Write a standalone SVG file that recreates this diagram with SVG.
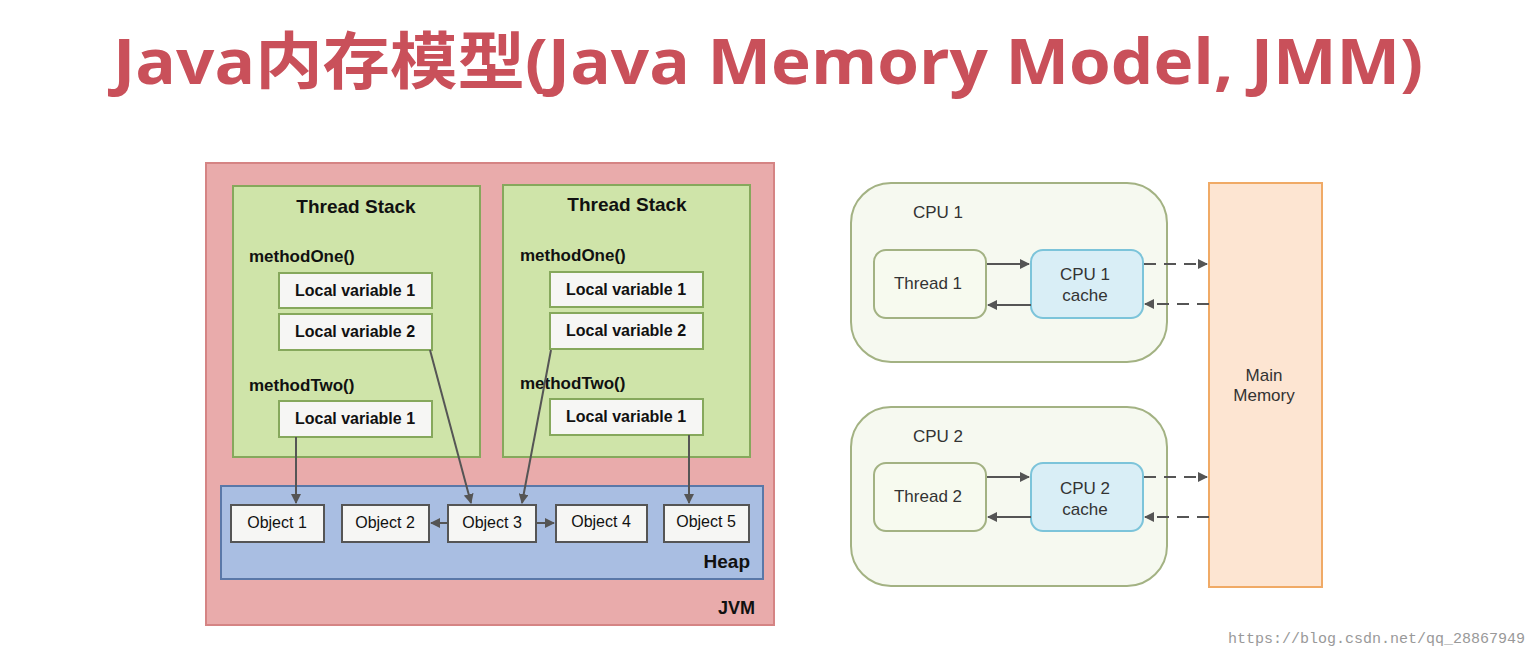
<svg xmlns="http://www.w3.org/2000/svg" width="1536" height="658" viewBox="0 0 1536 658">
<style>
.t{font-family:"Liberation Sans",Arial,sans-serif;fill:#111}
.b{font-weight:bold}
.stk{fill:#cfe4a9;stroke:#86a85c;stroke-width:2}
.lv{fill:#f6f6f4;stroke:#86a85c;stroke-width:2}
.ob{fill:#f6f6f4;stroke:#555;stroke-width:2}
.ln{stroke:#555;stroke-width:2;fill:none}
.cpu{fill:#f6f9f0;stroke:#a3b283;stroke-width:2}
.thr{fill:#f7faef;stroke:#a3b283;stroke-width:2}
.cch{fill:#d9eef6;stroke:#7cc4da;stroke-width:2}
.r{font-family:"Liberation Sans",Arial,sans-serif;fill:#333;font-size:17px}
</style>
<defs>
<marker id="a" viewBox="0 0 10 10" refX="9" refY="5" markerWidth="5" markerHeight="5" orient="auto"><path d="M0,0L10,5L0,10z" fill="#555"/></marker>
</defs>
<rect width="1536" height="658" fill="#fff"/>
<text x="768" y="84" text-anchor="middle" font-family="'Open Sans','Noto Sans CJK SC',sans-serif" font-weight="bold" font-size="62" fill="#c9505a" textLength="1310" lengthAdjust="spacingAndGlyphs">Java内存模型(Java Memory Model, JMM)</text>
<g id="jvm"><rect x="206" y="163" width="568" height="462" fill="#e9abab" stroke="#d58484" stroke-width="2"/><text class="t b" x="755" y="614" font-size="18" text-anchor="end">JVM</text></g>
<g id="stack1"><rect class="stk" x="233" y="186" width="247" height="271"/>
<text class="t b" x="356" y="213" font-size="19" text-anchor="middle">Thread Stack</text>
<text class="t b" x="249" y="262" font-size="17">methodOne()</text>
<rect class="lv" x="279" y="273" width="153" height="35"/><text class="t b" x="355" y="296" font-size="16" text-anchor="middle">Local variable 1</text>
<rect class="lv" x="279" y="314" width="153" height="36"/><text class="t b" x="355" y="337" font-size="16" text-anchor="middle">Local variable 2</text>
<text class="t b" x="249" y="391" font-size="17">methodTwo()</text>
<rect class="lv" x="279" y="401" width="153" height="36"/><text class="t b" x="355" y="424" font-size="16" text-anchor="middle">Local variable 1</text></g>
<g id="stack2"><rect class="stk" x="503" y="185" width="247" height="272"/>
<text class="t b" x="627" y="211" font-size="19" text-anchor="middle">Thread Stack</text>
<text class="t b" x="520" y="261" font-size="17">methodOne()</text>
<rect class="lv" x="550" y="272" width="153" height="35"/><text class="t b" x="626" y="295" font-size="16" text-anchor="middle">Local variable 1</text>
<rect class="lv" x="550" y="313" width="153" height="36"/><text class="t b" x="626" y="336" font-size="16" text-anchor="middle">Local variable 2</text>
<text class="t b" x="520" y="389" font-size="17">methodTwo()</text>
<rect class="lv" x="550" y="399" width="153" height="36"/><text class="t b" x="626" y="422" font-size="16" text-anchor="middle">Local variable 1</text></g>
<g id="heap"><rect x="221" y="486" width="542" height="93" fill="#a9bee2" stroke="#5a78a8" stroke-width="2"/><text class="t b" x="750" y="568" font-size="19" text-anchor="end">Heap</text>
<rect class="ob" x="231" y="505" width="93" height="37"/><text class="t" x="277" y="528" font-size="16" text-anchor="middle">Object 1</text>
<rect class="ob" x="342" y="505" width="87" height="37"/><text class="t" x="385" y="528" font-size="16" text-anchor="middle">Object 2</text>
<rect class="ob" x="448" y="505" width="88" height="37"/><text class="t" x="492" y="528" font-size="16" text-anchor="middle">Object 3</text>
<rect class="ob" x="556" y="505" width="91" height="37"/><text class="t" x="601" y="527" font-size="16" text-anchor="middle">Object 4</text>
<rect class="ob" x="664" y="505" width="85" height="37"/><text class="t" x="706" y="527" font-size="16" text-anchor="middle">Object 5</text></g>
<g id="cpu1"><rect class="cpu" x="851" y="183" width="316" height="179" rx="40"/><text class="r" x="913" y="218">CPU 1</text>
<rect class="thr" x="874" y="250" width="112" height="68" rx="12"/><text class="r" x="928" y="289" text-anchor="middle">Thread 1</text>
<rect class="cch" x="1031" y="250" width="112" height="68" rx="12"/><text class="r" x="1085" y="280" text-anchor="middle">CPU 1</text><text class="r" x="1085" y="301" text-anchor="middle">cache</text></g>
<g id="cpu2"><rect class="cpu" x="851" y="407" width="316" height="179" rx="40"/><text class="r" x="913" y="442">CPU 2</text>
<rect class="thr" x="874" y="463" width="112" height="68" rx="12"/><text class="r" x="928" y="502" text-anchor="middle">Thread 2</text>
<rect class="cch" x="1031" y="463" width="112" height="68" rx="12"/><text class="r" x="1085" y="494" text-anchor="middle">CPU 2</text><text class="r" x="1085" y="515" text-anchor="middle">cache</text></g>
<g id="mem"><rect x="1209" y="183" width="113" height="404" fill="#fde5d2" stroke="#f0aa66" stroke-width="2"/><text class="r" x="1264" y="381" text-anchor="middle">Main</text><text class="r" x="1264" y="401" text-anchor="middle">Memory</text></g>
<g id="connectors">
<line class="ln" x1="296" y1="437" x2="296" y2="503" marker-end="url(#a)"/>
<line class="ln" x1="430" y1="350" x2="471" y2="503" marker-end="url(#a)"/>
<line class="ln" x1="551" y1="350" x2="522" y2="503" marker-end="url(#a)"/>
<line class="ln" x1="689" y1="435" x2="689" y2="503" marker-end="url(#a)"/>
<line class="ln" x1="448" y1="523" x2="431" y2="523" marker-end="url(#a)"/>
<line class="ln" x1="536" y1="523" x2="554" y2="523" marker-end="url(#a)"/>
<line class="ln" x1="987" y1="264" x2="1029" y2="264" marker-end="url(#a)"/>
<line class="ln" x1="1031" y1="305" x2="988" y2="305" marker-end="url(#a)"/>
<line class="ln" x1="1144" y1="264" x2="1207" y2="264" stroke-dasharray="12,8" marker-end="url(#a)"/>
<line class="ln" x1="1209" y1="304" x2="1145" y2="304" stroke-dasharray="12,8" marker-end="url(#a)"/>
<line class="ln" x1="987" y1="477" x2="1029" y2="477" marker-end="url(#a)"/>
<line class="ln" x1="1031" y1="517" x2="988" y2="517" marker-end="url(#a)"/>
<line class="ln" x1="1144" y1="477" x2="1207" y2="477" stroke-dasharray="12,8" marker-end="url(#a)"/>
<line class="ln" x1="1209" y1="517" x2="1145" y2="517" stroke-dasharray="12,8" marker-end="url(#a)"/>
</g>
<text x="1525" y="643" text-anchor="end" font-family="'Liberation Mono',monospace" font-size="15" fill="#999">https://blog.csdn.net/qq_28867949</text>
</svg>
